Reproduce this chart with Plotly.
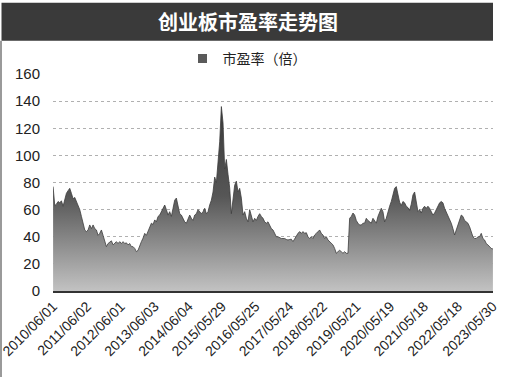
import pandas as pd
import plotly.graph_objects as go

pe_values = [
    77, 63, 64, 66, 65, 66.5, 62.5, 67, 72, 74, 75.7, 72, 68, 69, 66, 62.5, 60, 55, 48.7, 45,
    43.8, 45, 48.7, 46, 48.7, 46, 45, 41, 42.5, 45, 41, 37.6, 32.7, 35, 36.4, 37, 34, 35, 36.4, 35,
    36.4, 35, 36.4, 35, 35.5, 34, 35, 32.7, 32.7, 31.4, 29, 30, 34, 36.4, 39, 42.5, 41, 43.8, 46, 50,
    49, 52.4, 51, 55, 56, 58.5,
    60, 63.4, 60, 56, 58.5, 55, 61, 67, 68.5, 63.4, 57, 56, 53.6, 51, 50, 53.6, 56, 53.6, 52, 56,
    57, 60, 58.5, 57, 58.5, 61, 57, 58.5, 63.4, 67, 73, 84, 80, 96, 110, 136, 124, 90, 97, 86,
    76, 57, 70, 78, 81, 73, 75.7, 68.5, 56, 58.5, 53.6, 51, 60, 55, 51, 53.6, 52, 55, 57, 55,
    53.6, 51, 50, 51, 48.7, 46,
    45, 42.5, 40, 40, 39.3, 38.7, 38.7, 38.7, 38, 37.6, 38, 38.2, 36.4, 38.7, 40, 42.5, 43.8, 42.5, 43.8, 42.5,
    43, 40, 38.7, 40, 38.7, 41.3, 42.5, 43.8, 45, 42.5, 41.3, 38.7, 40, 37.6, 36.4, 35, 34, 31.4, 27.8, 29,
    30, 29, 27.8, 29, 27.8, 27.8, 53.6, 55, 57.5, 56, 52, 50, 48.7, 48.7, 50, 50, 53.6, 52, 51, 50,
    53.6, 52, 50, 55, 57.5, 61,
    58.5, 51, 53.6, 58.5, 62.5, 66, 70.8, 75.7, 77, 70, 65.5, 63, 66, 65, 62.5, 61.5, 59.5, 64, 70.8, 73,
    66, 58.5, 60, 57.5, 61, 62.5, 61, 62.5, 61, 58.5, 56, 57.5, 60, 62.5, 65, 66, 65, 61, 58.5, 56,
    53.6, 50, 46, 41.3, 45, 48.7, 53.6, 56, 55, 52, 51, 50, 47.4, 43.8, 40, 38.7, 38.7, 40, 40, 42.5,
    38.7, 37.6, 35, 34, 32.7, 31.4, 31,
]
# sample dates: evenly spaced positions along the time axis, one per reading
dates = pd.date_range("2010-06-01", "2023-05-30", periods=len(pe_values))

tick_dates = [
    "2010-06-01", "2011-06-02", "2012-06-01", "2013-06-03", "2014-06-04",
    "2015-05-29", "2016-05-25", "2017-05-24", "2018-05-22", "2019-05-21",
    "2020-05-19", "2021-05-18", "2022-05-18", "2023-05-30",
]
tick_labels = [
    "2010/06/01", "2011/06/02", "2012/06/01", "2013/06/03", "2014/06/04",
    "2015/05/29", "2016/05/25", "2017/05/24", "2018/05/22", "2019/05/21",
    "2020/05/19", "2021/05/18", "2022/05/18", "2023/05/30",
]

y_ticks = [0, 20, 40, 60, 80, 100, 120, 140, 160]

title_text = "创业板市盈率走势图"
series_name = "市盈率（倍）"

FONT = "Liberation Sans, Arial, Noto Sans CJK SC, sans-serif"

fig = go.Figure()
fig.add_trace(go.Scatter(
    x=dates, y=pe_values, mode="lines",
    line=dict(color="#3c3c3c", width=0.8),
    fill="tozeroy",
    fillgradient=dict(type="vertical", start=0, stop=140,
                      colorscale=[[0, "#c2c2c2"], [0.5, "#565656"], [1, "#383838"]]),
    showlegend=False, hoverinfo="skip",
))
fig.add_trace(go.Scatter(
    x=[None], y=[None], mode="markers", name=series_name,
    marker=dict(symbol="square", size=9, color="#5a5a5a"),
))

W, H = 510, 377
L, R, T, B = 53, 17, 74, 86
pw, ph = W - L - R, H - T - B

def px(xp):
    return (xp - L) / pw

def py(yp):
    return (H - B - yp) / ph

fig.add_shape(type="rect", xref="paper", yref="paper",
              x0=px(1.5), x1=px(493), y0=py(40.7), y1=py(2.7),
              fillcolor="#3a3a3a", line=dict(width=0), layer="above")
fig.add_shape(type="line", xref="paper", yref="paper",
              x0=px(1), x1=px(1), y0=py(40.7), y1=py(377),
              line=dict(color="#9a9a9a", width=2), layer="above")
fig.add_annotation(text=f"<b>{title_text}</b>", xref="paper", yref="paper",
                   x=px(248), y=py(21.5), showarrow=False,
                   xanchor="center", yanchor="middle",
                   font=dict(family="Noto Sans CJK SC", size=20, color="white"))

fig.update_layout(
    width=W, height=H,
    margin=dict(l=L, r=R, t=T, b=B, autoexpand=False),
    paper_bgcolor="white", plot_bgcolor="white",
    font=dict(family=FONT, color="#222"),
    legend=dict(orientation="h", x=px(247), y=py(59), xanchor="center", yanchor="middle",
                font=dict(family="Noto Sans CJK SC", size=14, color="#222"),
                bgcolor="rgba(0,0,0,0)"),
    xaxis=dict(
        type="date", range=["2010-05-31", "2023-05-31"],
        tickvals=tick_dates, ticktext=tick_labels, tickangle=-45,
        tickfont=dict(size=14, family=FONT, color="#222"),
        showgrid=False, showline=True, linecolor="#333", linewidth=1.5,
        ticks="", zeroline=False, automargin=False, ticklabeloverflow="allow",
    ),
    yaxis=dict(
        range=[0, 160], tickvals=y_ticks,
        tickfont=dict(size=15, family=FONT, color="#222"),
        showgrid=True, gridcolor="#b0b0b0", griddash="dot", gridwidth=1,
        zeroline=False, showline=False, ticks="", ticklabelstandoff=12,
        automargin=False,
    ),
)

fig.write_html("out.html", config={"displayModeBar": False},
               post_script="document.body.style.margin='0';document.body.style.overflow='hidden';")
